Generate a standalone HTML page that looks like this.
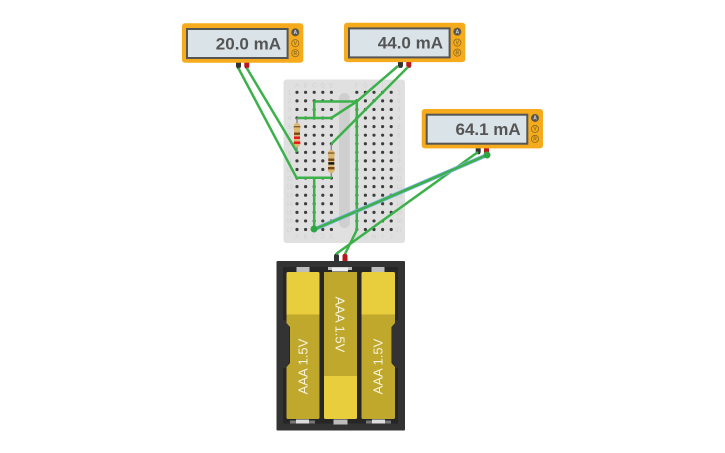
<!DOCTYPE html>
<html><head><meta charset="utf-8"><style>html,body{margin:0;padding:0;background:#fff}svg{display:block}text{font-family:"Liberation Sans",sans-serif}</style></head><body>
<svg width="725" height="453" viewBox="0 0 725 453" xmlns="http://www.w3.org/2000/svg">
<defs>
<g id="m">
<path d="M236 62h5v4.500l-1 2h-3l-1-2z" fill="#333"/>
<path d="M244.300 62h5v4.500l-1 2h-3l-1-2z" fill="#b5181e"/>
<rect x="182" y="23.300" width="121.300" height="39.400" rx="3" fill="#f5ab1c"/>
<rect x="187" y="29" width="100.600" height="29" fill="#dae3e8" stroke="#555" stroke-width="2"/>
<circle cx="295.300" cy="32.300" r="3.800" fill="#555" stroke="#8a6a20" stroke-width=".6"/>
<circle cx="295.300" cy="43.200" r="3.600" fill="none" stroke="#8a6a20" stroke-width=".8"/>
<circle cx="295.300" cy="53.200" r="3.600" fill="none" stroke="#8a6a20" stroke-width=".8"/>
</g>
</defs>

<!-- breadboard -->
<rect x="283.500" y="79.500" width="121.500" height="163.500" rx="3" fill="#e0e0e0"/>
<rect x="339" y="93" width="10.800" height="135" rx="5.400" fill="#cfcfcf"/>
<g fill="#d2d2d2" font-size="6" text-anchor="middle">
<text x="297" y="87.500">A</text><text x="305.600" y="87.500">B</text><text x="314.200" y="87.500">C</text><text x="322.800" y="87.500">D</text><text x="331.400" y="87.500">E</text>
<text x="356.800" y="87.500">F</text><text x="365.400" y="87.500">G</text><text x="374" y="87.500">H</text><text x="382.600" y="87.500">I</text><text x="391.200" y="87.500">J</text>
<text x="297" y="238.500">A</text><text x="305.600" y="238.500">B</text><text x="314.200" y="238.500">C</text><text x="322.800" y="238.500">D</text><text x="331.400" y="238.500">E</text>
<text x="356.800" y="238.500">F</text><text x="365.400" y="238.500">G</text><text x="374" y="238.500">H</text><text x="382.600" y="238.500">I</text><text x="391.200" y="238.500">J</text>
<text x="289.500" y="94.500">1</text><text x="289.500" y="103">2</text><text x="289.500" y="111.500">3</text><text x="289.500" y="120">4</text><text x="289.500" y="129">5</text><text x="289.500" y="137.500">6</text><text x="289.500" y="146">7</text><text x="289.500" y="154.500">8</text><text x="289.500" y="163">9</text><text x="289.500" y="172">10</text><text x="289.500" y="180.500">11</text><text x="289.500" y="189">12</text><text x="289.500" y="197.500">13</text><text x="289.500" y="206">14</text><text x="289.500" y="214.500">15</text><text x="289.500" y="223">16</text><text x="289.500" y="232">17</text>
<text x="399" y="94.500">1</text><text x="399" y="103">2</text><text x="399" y="111.500">3</text><text x="399" y="120">4</text><text x="399" y="129">5</text><text x="399" y="137.500">6</text><text x="399" y="146">7</text><text x="399" y="154.500">8</text><text x="399" y="163">9</text><text x="399" y="172">10</text><text x="399" y="180.500">11</text><text x="399" y="189">12</text><text x="399" y="197.500">13</text><text x="399" y="206">14</text><text x="399" y="214.500">15</text><text x="399" y="223">16</text><text x="399" y="232">17</text>
</g>
<g stroke="#3d3d3d" stroke-width="3.200" stroke-linecap="round" stroke-dasharray="0 8.575" fill="none">
<path d="M297 92.300V231"/><path d="M305.600 92.300V231"/><path d="M314.200 92.300V231"/><path d="M322.800 92.300V231"/><path d="M331.400 92.300V231"/>
<path d="M356.800 92.300V231"/><path d="M365.400 92.300V231"/><path d="M374 92.300V231"/><path d="M382.600 92.300V231"/><path d="M391.200 92.300V231"/>
</g>

<!-- battery -->
<rect x="276.500" y="261" width="128.500" height="169.500" rx="1" fill="#333"/>
<rect x="283" y="267" width="115" height="156.500" fill="#262626"/>
<path d="M283 320H285.500L289 326V362L285.500 368H283z" fill="#333"/>
<path d="M398 320H395.500L392 326V362L395.500 368H398z" fill="#333"/>
<rect x="296.500" y="267" width="13" height="5" fill="#bdbdbd"/>
<rect x="328" y="267" width="24" height="3" fill="#bdbdbd"/>
<rect x="332" y="267.500" width="16" height="4" fill="#eee"/>
<rect x="371.500" y="267" width="13" height="5" fill="#bdbdbd"/>
<path d="M286.500 273.500a1.500 1.500 0 0 1 1.500-1.500h30a1.500 1.500 0 0 1 1.500 1.500V314.500h-33z" fill="#e8cd3c"/>
<path d="M286.500 314.500h33v103a1.500 1.500 0 0 1-1.500 1.500h-30a1.500 1.500 0 0 1-1.500-1.500V367l3.500-4V327l-3.500-4z" fill="#bfa82c"/>
<rect x="324" y="272" width="33" height="104.500" fill="#bfa82c"/>
<path d="M324 376h33v41.500a1.500 1.500 0 0 1-1.500 1.500h-30a1.500 1.500 0 0 1-1.500-1.500z" fill="#e8cd3c"/>
<path d="M361.500 273.500a1.500 1.500 0 0 1 1.500-1.500h30.500a1.500 1.500 0 0 1 1.500 1.500V314.500h-33.500z" fill="#e8cd3c"/>
<path d="M361.500 314.500h33.500v8.500l-3.500 4v36l3.500 4v50.500a1.500 1.500 0 0 1-1.500 1.500h-30.500a1.500 1.500 0 0 1-1.500-1.500z" fill="#bfa82c"/>
<rect x="290" y="420.500" width="25" height="3" fill="#777"/><rect x="296" y="419.500" width="13" height="4" fill="#ddd"/>
<rect x="333.500" y="419.500" width="14" height="5" fill="#bdbdbd"/>
<rect x="366" y="420.500" width="25" height="3" fill="#777"/><rect x="372" y="419.500" width="13" height="4" fill="#ddd"/>
<g fill="#f6f3dc" font-size="13" text-anchor="middle">
<text transform="translate(307.500,366.500) rotate(-90)">AAA 1.5V</text>
<text transform="translate(335.500,324.500) rotate(90)">AAA 1.5V</text>
<text transform="translate(382.500,366.500) rotate(-90)">AAA 1.5V</text>
</g>
<path d="M334 256a2.500 2.500 0 0 1 5 0v5h-5z" fill="#333"/>
<path d="M342.500 256a2.500 2.500 0 0 1 5 0v5h-5z" fill="#b5181e"/>

<!-- resistors -->
<path d="M297 118V152M331.300 144V178" stroke="#8c8c8c" stroke-width="1.500" fill="none"/>
<path d="M293.500 127c0-2 1-4 3.500-4s3.500 2 3.500 4l-.5 3v11l.5 2c0 2-1 4-3.500 4s-3.500-2-3.500-4l.5-2v-11z" fill="#dcb873"/>
<rect x="293.800" y="126.200" width="6.500" height="1.100" fill="#6b4a20"/>
<rect x="294" y="132.500" width="6" height="2.400" fill="#7a4a16"/><rect x="294" y="136.500" width="6" height="2.400" fill="#e8141c"/><rect x="293.800" y="141.500" width="6.500" height="2.400" fill="#e8141c"/>
<path d="M327.800 154c0-2 1-4 3.500-4s3.500 2 3.500 4l-.5 3v11l.5 1c0 2-1 4-3.500 4s-3.500-2-3.500-4l.5-1v-11z" fill="#dcb873"/>
<rect x="328" y="152.500" width="6.500" height="1.100" fill="#6b4a20"/>
<rect x="328.300" y="158.500" width="6" height="2.400" fill="#7a4a16"/><rect x="328.300" y="162.200" width="6" height="2.400" fill="#111"/><rect x="328" y="167" width="6.500" height="2.400" fill="#7a4a16"/>

<!-- meters -->
<use href="#m"/>
<use href="#m" x="162" y="-.6"/>
<use href="#m" x="239.700" y="85.700"/>
<g font-weight="bold" font-size="17" fill="#555" text-anchor="end">
<text x="281" y="49.300">20.0 mA</text>
<text x="443" y="48.700">44.0 mA</text>
<text x="520.700" y="135">64.1 mA</text>
</g>
<g font-size="5" text-anchor="middle" font-weight="bold">
<text x="295.300" y="34" fill="#ddd">A</text><text x="295.300" y="45" fill="#8a6a20">V</text><text x="295.300" y="55" fill="#8a6a20">R</text>
<text x="457.300" y="33.400" fill="#ddd">A</text><text x="457.300" y="44.400" fill="#8a6a20">V</text><text x="457.300" y="54.400" fill="#8a6a20">R</text>
<text x="535" y="119.700" fill="#ddd">A</text><text x="535" y="130.700" fill="#8a6a20">V</text><text x="535" y="140.700" fill="#8a6a20">R</text>
</g>

<!-- wires -->
<g fill="none" stroke="#3cb14a" stroke-width="2.500" stroke-linejoin="round">
<path d="M238.300 68L296.500 177.700H331.300"/>
<path d="M314.200 177.700V229"/>
<path d="M246.700 68L297 152"/>
<path d="M297 118H331.300L356.800 101.500H314.200V118"/>
<path d="M331.300 118L356.800 101.500L398 66"/>
<path d="M331.300 144L408 67"/>
<path d="M356.800 101.500V230L345 254"/>
<path d="M336 254L478 152"/>
</g>
<path d="M314 229.500L487 155" stroke="#7fb2e0" stroke-width="4" fill="none"/>
<path d="M314 229.500L487 155" stroke="#3cb14a" stroke-width="2.500" fill="none"/>
<circle cx="314" cy="229" r="3.500" fill="#2fa644"/>
<circle cx="487" cy="155" r="3.500" fill="#2fa644"/>
</svg>
</body></html>
